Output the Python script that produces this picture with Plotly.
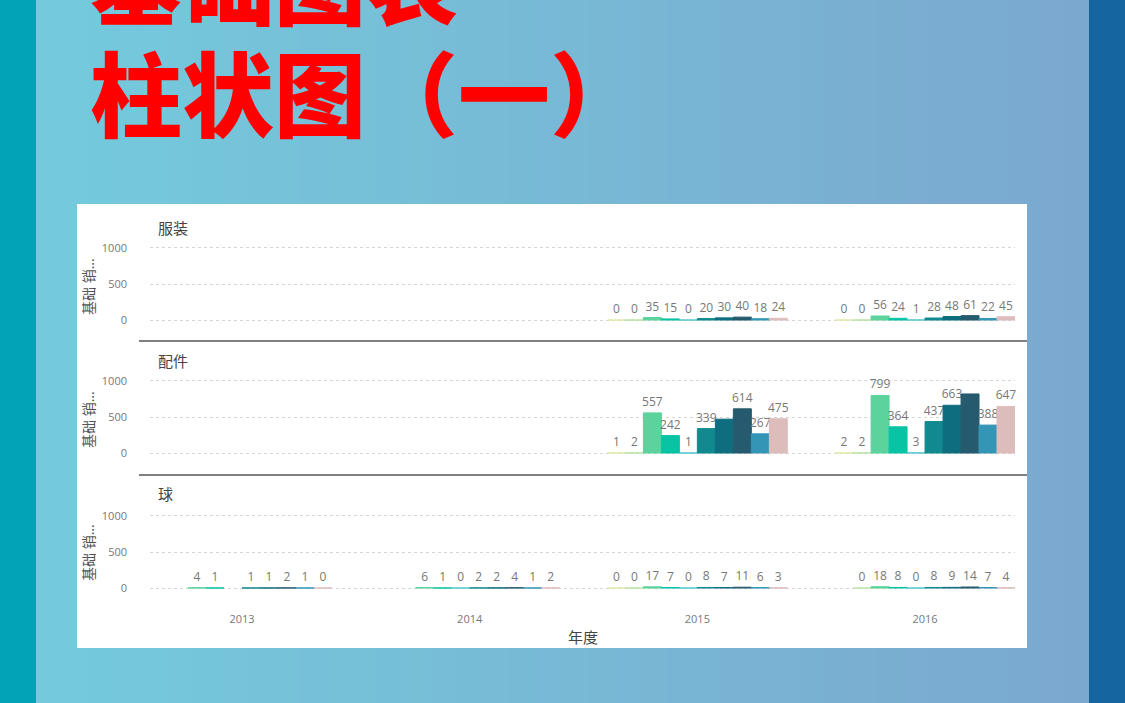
import plotly.graph_objects as go

W, H = 1125, 703

years = ["2013", "2014", "2015", "2016"]
categories = ["服装", "配件", "球"]
series_names = ["子类别1", "子类别2", "子类别3", "子类别4", "子类别5",
                "子类别6", "子类别7", "子类别8", "子类别9", "子类别10"]

# values per year, one entry per series (None = no bar)
clothing_values = [
    [None, None, None, None, None, None, None, None, None, None],
    [None, None, None, None, None, None, None, None, None, None],
    [0, 0, 35, 15, 0, 20, 30, 40, 18, 24],
    [0, 0, 56, 24, 1, 28, 48, 61, 22, 45],
]
parts_values = [
    [None, None, None, None, None, None, None, None, None, None],
    [None, None, None, None, None, None, None, None, None, None],
    [1, 2, 557, 242, 1, 339, 470, 614, 267, 475],
    [2, 2, 799, 364, 3, 437, 663, 820, 388, 647],
]
ball_values = [
    [None, None, 4, 1, None, 1, 1, 2, 1, 0],
    [None, None, 6, 1, 0, 2, 2, 4, 1, 2],
    [0, 0, 17, 7, 0, 8, 7, 11, 6, 3],
    [None, 0, 18, 8, 0, 8, 9, 14, 7, 4],
]
# labels Power BI dropped because they overlapped
hidden_labels = [("配件", "2015", 6), ("配件", "2016", 7)]

colors = ["#DDEBA4", "#B9E2A6", "#5CD39C", "#08C4A4", "#52C7CF",
          "#12898F", "#0E6E80", "#265A6E", "#3495B6", "#DDBCBC"]


def px(p):
    return p / W


def py(p):
    return 1 - p / H


font_ui = "Segoe UI, Open Sans, Noto Sans CJK SC"
cat_data = [clothing_values, parts_values, ball_values]
rows = [(240, 326), (373, 459), (508, 594)]  # plot area top/bottom in pixels

fig = go.Figure()

for r, (cat, vals) in enumerate(zip(categories, cat_data)):
    suffix = "" if r == 0 else str(r + 1)
    for i, name in enumerate(series_names):
        ys = [vals[k][i] for k in range(len(years))]
        texts = []
        for k, v in enumerate(ys):
            if v is None or (cat, years[k], i) in hidden_labels:
                texts.append("")
            else:
                texts.append(str(v))
        fig.add_trace(go.Bar(
            x=years, y=ys, name=name, text=texts,
            textposition="outside", cliponaxis=False, constraintext="none",
            textfont=dict(size=12, color="#777777", family=font_ui),
            marker=dict(color=colors[i], line=dict(color=colors[i], width=1)),
            xaxis="x" + suffix, yaxis="y" + suffix, showlegend=False,
        ))

layout_axes = {}
for r, (top, bot) in enumerate(rows):
    suffix = "" if r == 0 else str(r + 1)
    layout_axes["xaxis" + suffix] = dict(
        domain=[px(150), px(1015)], anchor="y" + suffix,
        type="category", categoryarray=years, categoryorder="array",
        range=[-0.404, 3.395], showgrid=False, zeroline=False, showline=False,
        showticklabels=(r == 2), ticks="", ticklabelstandoff=17,
        tickfont=dict(size=11, color="#777777", family=font_ui),
    )
    layout_axes["yaxis" + suffix] = dict(
        domain=[py(bot), py(top)], anchor="x" + suffix,
        range=[-83, 1111], tickvals=[0, 500, 1000],
        showgrid=True, gridcolor="#D6D6D6", griddash="dot", gridwidth=1,
        zeroline=False, showline=False, ticks="", ticklabelstandoff=22,
        tickfont=dict(size=11, color="#777777", family=font_ui),
    )

# background: side strips, gradient body, white panel
shapes = [
    dict(type="rect", xref="paper", yref="paper", x0=0, x1=px(36), y0=0, y1=1,
         fillcolor="#02A3B6", line_width=0, layer="below"),
    dict(type="rect", xref="paper", yref="paper", x0=px(1088), x1=1, y0=0, y1=1,
         fillcolor="#1565A0", line_width=0, layer="below"),
]
c0, c1 = (0x74, 0xCA, 0xDC), (0x7B, 0xA8, 0xCF)
n_strips = 40
for s in range(n_strips):
    t = s / (n_strips - 1)
    col = "rgb(%d,%d,%d)" % tuple(round(a + (b - a) * t) for a, b in zip(c0, c1))
    xa = 36 + (1088 - 36) * s / n_strips
    xb = 36 + (1088 - 36) * (s + 1) / n_strips + 1
    shapes.append(dict(type="rect", xref="paper", yref="paper",
                       x0=px(xa), x1=px(xb), y0=0, y1=1,
                       fillcolor=col, line_width=0, layer="below"))
shapes.append(dict(type="rect", xref="paper", yref="paper",
                   x0=px(77), x1=px(1027), y0=py(648), y1=py(204),
                   fillcolor="white", line_width=0, layer="below"))
for yline in [341, 475]:
    shapes.append(dict(type="line", xref="paper", yref="paper",
                       x0=px(139), x1=px(1027), y0=py(yline), y1=py(yline),
                       line=dict(color="#808080", width=2)))

annotations = []
title_font = dict(family="Noto Sans CJK SC", size=92, color="#FF0000", weight=900)
annotations.append(dict(text="基础图表", xref="paper", yref="paper",
                        x=px(88), y=py(-22), xanchor="left", yanchor="middle",
                        showarrow=False, font=title_font))
annotations.append(dict(text="柱状图（一）", xref="paper", yref="paper",
                        x=px(88), y=py(90), xanchor="left", yanchor="middle",
                        showarrow=False, font=title_font))
for cat, ty, yt in zip(categories, [228, 361, 494], [287, 420, 553]):
    annotations.append(dict(text=cat, xref="paper", yref="paper",
                            x=px(156), y=py(ty), xanchor="left", yanchor="middle",
                            showarrow=False,
                            font=dict(size=15, color="#444444", family=font_ui)))
    annotations.append(dict(text="基础 销...", xref="paper", yref="paper",
                            x=px(88), y=py(yt), xanchor="center", yanchor="middle",
                            textangle=-90, showarrow=False,
                            font=dict(size=14, color="#555555", family=font_ui)))
annotations.append(dict(text="年度", xref="paper", yref="paper",
                        x=px(583), y=py(637), xanchor="center", yanchor="middle",
                        showarrow=False,
                        font=dict(size=15, color="#444444", family=font_ui)))

fig.update_layout(
    width=W, height=H, margin=dict(l=0, r=0, t=0, b=0),
    paper_bgcolor="#77B9D6", plot_bgcolor="rgba(0,0,0,0)",
    barmode="group", bargap=0.21, bargroupgap=0,
    shapes=shapes, annotations=annotations,
    font=dict(family=font_ui),
    **layout_axes,
)

# drop the page's default body margin so the figure fills the window
fig.write_html("out.html", config={"displayModeBar": False},
               post_script="document.body.style.margin='0';"
                           "document.body.style.overflow='hidden';")
